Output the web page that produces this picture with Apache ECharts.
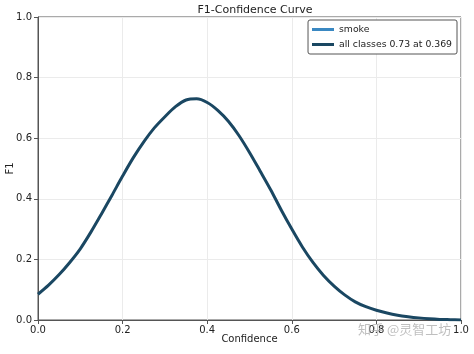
<!DOCTYPE html>
<html>
<head>
<meta charset="utf-8">
<script src="https://cdn.jsdelivr.net/npm/echarts@6/dist/echarts.min.js"></script>
<style>
  html, body { margin: 0; padding: 0; background: #fff; }
  #chart { width: 474px; height: 354px; }
</style>
</head>
<body>
<div id="chart"></div>
<script>
// confidence thresholds and F1 values
const conf = [0, 0.025, 0.05, 0.075, 0.1, 0.125, 0.15, 0.175, 0.2, 0.225, 0.25, 0.275, 0.3, 0.325, 0.35, 0.375,
    0.4, 0.425, 0.45, 0.475, 0.5, 0.525, 0.55, 0.575, 0.6, 0.625, 0.65, 0.675, 0.7, 0.725, 0.75, 0.775,
    0.8, 0.825, 0.85, 0.875, 0.9, 0.925, 0.95, 0.975, 1.0]
const smokeF1 = [0.085, 0.115, 0.15, 0.19, 0.235, 0.29, 0.35, 0.412, 0.475, 0.535, 0.588, 0.634, 0.671, 0.704, 0.726, 0.73,
    0.718, 0.692, 0.656, 0.609, 0.553, 0.492, 0.43, 0.363, 0.30, 0.241, 0.19, 0.147, 0.112, 0.083, 0.06, 0.044,
    0.032, 0.023, 0.016, 0.011, 0.007, 0.004, 0.002, 0.001, 0.0]
const allF1 = smokeF1.slice()
const axisTicks = [0, 0.2, 0.4, 0.6, 0.8, 1.0]

window.onload = () => {
    let chart = echarts.init(document.getElementById('chart'))
    const font = 'DejaVu Sans'
    const pairs = arr => conf.map((c, i) => [c, arr[i]])

    let option = {
        backgroundColor: '#fff',
        animation: false,
        title: {
            text: 'F1-Confidence Curve',
            left: 250,
            top: 0,
            textAlign: 'center',
            textStyle: { fontFamily: font, fontSize: 11, fontWeight: 'normal', color: '#222' }
        },
        legend: {
            orient: 'vertical',
            right: 17,
            top: 20,
            padding: [5, 5, 5, 4],
            itemGap: 6,
            itemWidth: 22,
            itemHeight: 3,
            icon: 'rect',
            borderColor: '#555',
            borderWidth: 1,
            borderRadius: 2,
            backgroundColor: '#fff',
            textStyle: { fontFamily: font, fontSize: 9.3, color: '#222' },
            data: ['smoke', 'all classes 0.73 at 0.369']
        },
        grid: {
            left: 38, right: 13, top: 17, bottom: 34,
            containLabel: false,
            outerBoundsMode: 'none',
            show: true,
            borderColor: '#555',
            borderWidth: 1
        },
        xAxis: {
            type: 'value',
            min: axisTicks[0], max: axisTicks[axisTicks.length - 1], interval: 0.2,
            name: 'Confidence',
            nameLocation: 'middle',
            nameGap: 14,
            nameMoveOverlap: false,
            nameTextStyle: { fontFamily: font, fontSize: 10, color: '#222' },
            axisLine: { lineStyle: { color: '#555' } },
            axisTick: { show: true, length: 4, lineStyle: { color: '#555' } },
            axisLabel: { fontFamily: font, fontSize: 10, color: '#222', margin: 5, formatter: v => v.toFixed(1) },
            splitLine: { lineStyle: { color: '#ebebeb' } }
        },
        yAxis: {
            type: 'value',
            min: axisTicks[0], max: axisTicks[axisTicks.length - 1], interval: 0.2,
            name: 'F1',
            nameLocation: 'middle',
            nameGap: 23,
            nameMoveOverlap: false,
            nameTextStyle: { fontFamily: font, fontSize: 10, color: '#222' },
            axisLine: { show: true, lineStyle: { color: '#555' } },
            axisTick: { show: true, length: 4, lineStyle: { color: '#555' } },
            axisLabel: { fontFamily: font, fontSize: 10, color: '#222', margin: 6, formatter: v => v.toFixed(1) },
            splitLine: { lineStyle: { color: '#ebebeb' } }
        },
        graphic: [{
            type: 'text',
            left: 358,
            top: 323,
            style: {
                text: '知乎 @灵智工坊',
                fontFamily: 'Noto Sans CJK SC',
                fontSize: 13,
                fill: 'rgba(170,170,170,0.75)'
            },
            z: 100
        }],
        series: [{
            name: 'smoke',
            type: 'line',
            smooth: 0.3,
            showSymbol: false,
            color: '#3a88c2',
            lineStyle: { width: 1 },
            data: pairs(smokeF1)
        }, {
            name: 'all classes 0.73 at 0.369',
            type: 'line',
            smooth: 0.3,
            showSymbol: false,
            color: '#1a4762',
            lineStyle: { width: 3 },
            data: pairs(allF1)
        }]
    }
    chart.setOption(option)
}
</script>
</body>
</html>
